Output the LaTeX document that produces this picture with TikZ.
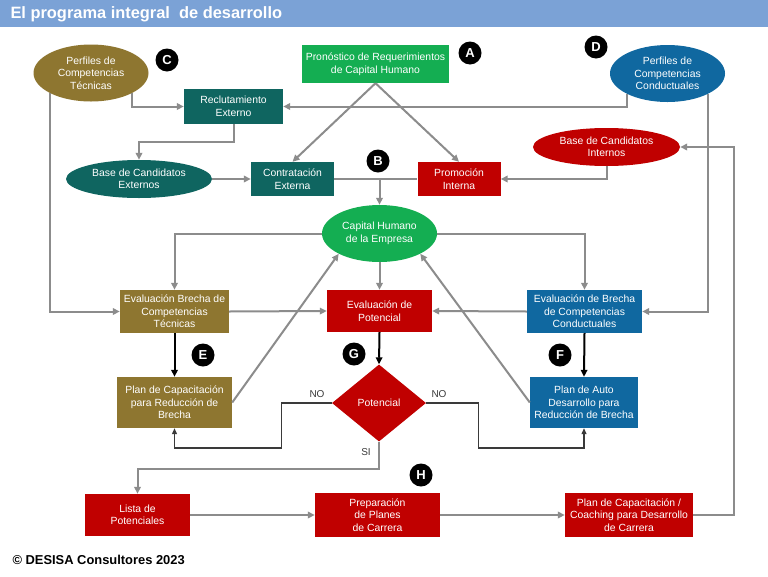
\documentclass[tikz,border=0pt]{standalone}
\usepackage{fontspec}
\setmainfont{Liberation Sans}
\usetikzlibrary{shapes.geometric,arrows.meta}

\definecolor{barBlue}{HTML}{7BA2D6}
\definecolor{colOlive}{HTML}{8E7630}
\definecolor{colTeal}{HTML}{0F6560}
\definecolor{colGreen}{HTML}{14AE52}
\definecolor{colRed}{HTML}{C00000}
\definecolor{colBlue}{HTML}{1068A0}
\definecolor{colLine}{HTML}{8C8C8C}
\definecolor{colDark}{HTML}{3A3A3A}

\tikzset{
  box/.style={rectangle, fill=#1, text=white, align=center, inner sep=0pt,
    font=\fontsize{10.4}{12.5}\selectfont},
  oval/.style={ellipse, fill=#1, text=white, align=center, inner xsep=-14pt, inner ysep=-8pt,
    font=\fontsize{10.4}{12.5}\selectfont},
  badge/.style={circle, fill=black, text=white, inner sep=0pt, minimum size=23pt,
    font=\fontsize{13}{13}\selectfont\bfseries},
  flow/.style={draw=colLine, line width=2pt, -{Triangle[length=7pt,width=6.5pt]}},
  plain/.style={draw=colLine, line width=2pt},
  strong/.style={draw=black, line width=2pt, -{Triangle[length=7pt,width=6.5pt]}},
  noflow/.style={draw=colDark, line width=1.2pt, -{Triangle[length=6pt,width=5pt]}},
  lbl/.style={text=colDark, font=\fontsize{10}{10}\selectfont}
}

\begin{document}
\begin{tikzpicture}[x=1pt,y=-1pt]
  \useasboundingbox (0,0) rectangle (768,576);
  \fill[white] (0,0) rectangle (768,576);

  % title bar
  \fill[barBlue] (0,0) rectangle (768,27);
  \node[anchor=west, text=white, font=\fontsize{16.4}{17}\selectfont\bfseries] (title) at (7,14.5)
    {El programa integral \ de desarrollo};

  % top row
  \node[box=colGreen, minimum width=147pt, minimum height=38pt] (pron) at (375.5,64)
    {Pronóstico de Requerimientos\\de Capital Humano};
  \node[oval=colOlive, minimum width=115pt, minimum height=57pt] (perfT) at (91,73)
    {Perfiles de\\Competencias\\Técnicas};
  \node[oval=colBlue, minimum width=115pt, minimum height=57pt] (perfC) at (667.5,73.5)
    {Perfiles de\\Competencias\\Conductuales};
  \node[box=colTeal, minimum width=99pt, minimum height=35pt] (reclut) at (233.5,106.5)
    {Reclutamiento\\Externo};

  % candidates
  \node[oval=colTeal, minimum width=146pt, minimum height=38pt] (baseE) at (139,179)
    {Base de Candidatos\\Externos};
  \node[box=colTeal, minimum width=83pt, minimum height=34pt] (contrE) at (292.5,179)
    {Contratación\\Externa};
  \node[box=colRed, minimum width=83pt, minimum height=34pt] (promo) at (459,179)
    {Promoción\\Interna};
  \node[oval=colRed, minimum width=147pt, minimum height=38pt] (baseI) at (606.5,147)
    {Base de Candidatos\\Internos};

  \node[oval=colGreen, minimum width=115pt, minimum height=57pt] (capital) at (379.5,233.5)
    {Capital Humano\\de la Empresa};

  % evaluations
  \node[box=colOlive, minimum width=109pt, minimum height=43pt] (evalT) at (174.5,311.5)
    {Evaluación Brecha de\\Competencias\\Técnicas};
  \node[box=colRed, minimum width=105pt, minimum height=42pt] (evalP) at (379.5,311)
    {Evaluación de\\Potencial};
  \node[box=colBlue, minimum width=115pt, minimum height=43pt] (evalC) at (584.5,311.5)
    {Evaluación de Brecha\\de Competencias\\Conductuales};

  % plans
  \node[box=colOlive, minimum width=115pt, minimum height=51pt] (planT) at (174.5,402.5)
    {Plan de Capacitación\\para Reducción de\\Brecha};
  \node[diamond, fill=colRed, text=white, inner sep=0pt, minimum width=94pt, minimum height=77pt,
    font=\fontsize{10.4}{12.5}\selectfont] (pot) at (379,403) {Potencial};
  \node[box=colBlue, minimum width=108pt, minimum height=51pt] (planA) at (584,402.5)
    {Plan de Auto\\Desarrollo para\\Reducción de Brecha};

  % bottom row
  \node[box=colRed, minimum width=105pt, minimum height=42pt] (lista) at (137.5,515)
    {Lista de\\Potenciales};
  \node[box=colRed, minimum width=125pt, minimum height=44pt] (prep) at (377.5,515)
    {Preparación\\de Planes\\de Carrera};
  \node[box=colRed, minimum width=128pt, minimum height=44pt] (coach) at (629,515)
    {Plan de Capacitación /\\Coaching para Desarrollo\\de Carrera};

  % letters
  \foreach \l/\x/\y in {A/470/53, B/378/161, C/167/60, D/596/47, E/203/355, F/560/355, G/354/354, H/421/475}
    \node[badge] (badge\l) at (\x,\y) {\l};

  % labels of the decision
  \node[lbl] (noL) at (317,394) {NO};
  \node[lbl] (noR) at (439,394) {NO};
  \node[lbl] (si) at (366,452) {SI};

  \node[anchor=west, font=\fontsize{12.9}{13}\selectfont\bfseries] (copy) at (9,560)
    {© DESISA Consultores 2023};

  % connectors
  \draw[flow] (perfT.south east) |- (reclut.west);
  \draw[flow] (perfC.south west) |- (reclut.east);
  \draw[flow] (reclut.south) -- ++(0,18) -| (baseE.north);
  \draw[flow] (baseE.east) -- (contrE.west);
  \draw[flow] (pron.south) -- (contrE.north);
  \draw[flow] (pron.south) -- (promo.north);
  \draw[plain] (contrE.east) -- (promo.west);
  \draw[flow] (contrE.east -| capital.north) -- (capital.north);
  \draw[flow] (baseI.south) |- (promo.east);

  \draw[flow] (capital.west) -| (evalT.north);
  \draw[flow] (capital.east) -| (evalC.north);
  \draw[flow] (capital.south) -- (evalP.north);
  \draw[flow] (perfT.south west) |- (evalT.west);
  \draw[flow] (perfC.south east) |- (evalC.east);
  \draw[flow] (evalT.east) -- (evalP.west);
  \draw[flow] (evalC.west) -- (evalP.east);

  \draw[strong] (evalT.south) -- (planT.north);
  \draw[strong] (evalP.south) -- (pot.north);
  \draw[strong] (evalC.south) -- (planA.north);

  \draw[flow] (planT.east) -- (capital.south west);
  \draw[flow] (planA.west) -- (capital.south east);

  \draw[noflow] (pot.west) -- ++(-50,0) -- ++(0,45) -| (planT.south);
  \draw[noflow] (pot.east) -- ++(52,0) -- ++(0,45) -| (planA.south);
  \draw[flow] (pot.south) -- ++(0,27) -| (lista.north);

  \draw[flow] (lista.east) -- (prep.west);
  \draw[flow] (prep.east) -- (coach.west);
  \draw[flow] (coach.east) -- ++(41,0) |- (baseI.east);
\end{tikzpicture}
\end{document}
